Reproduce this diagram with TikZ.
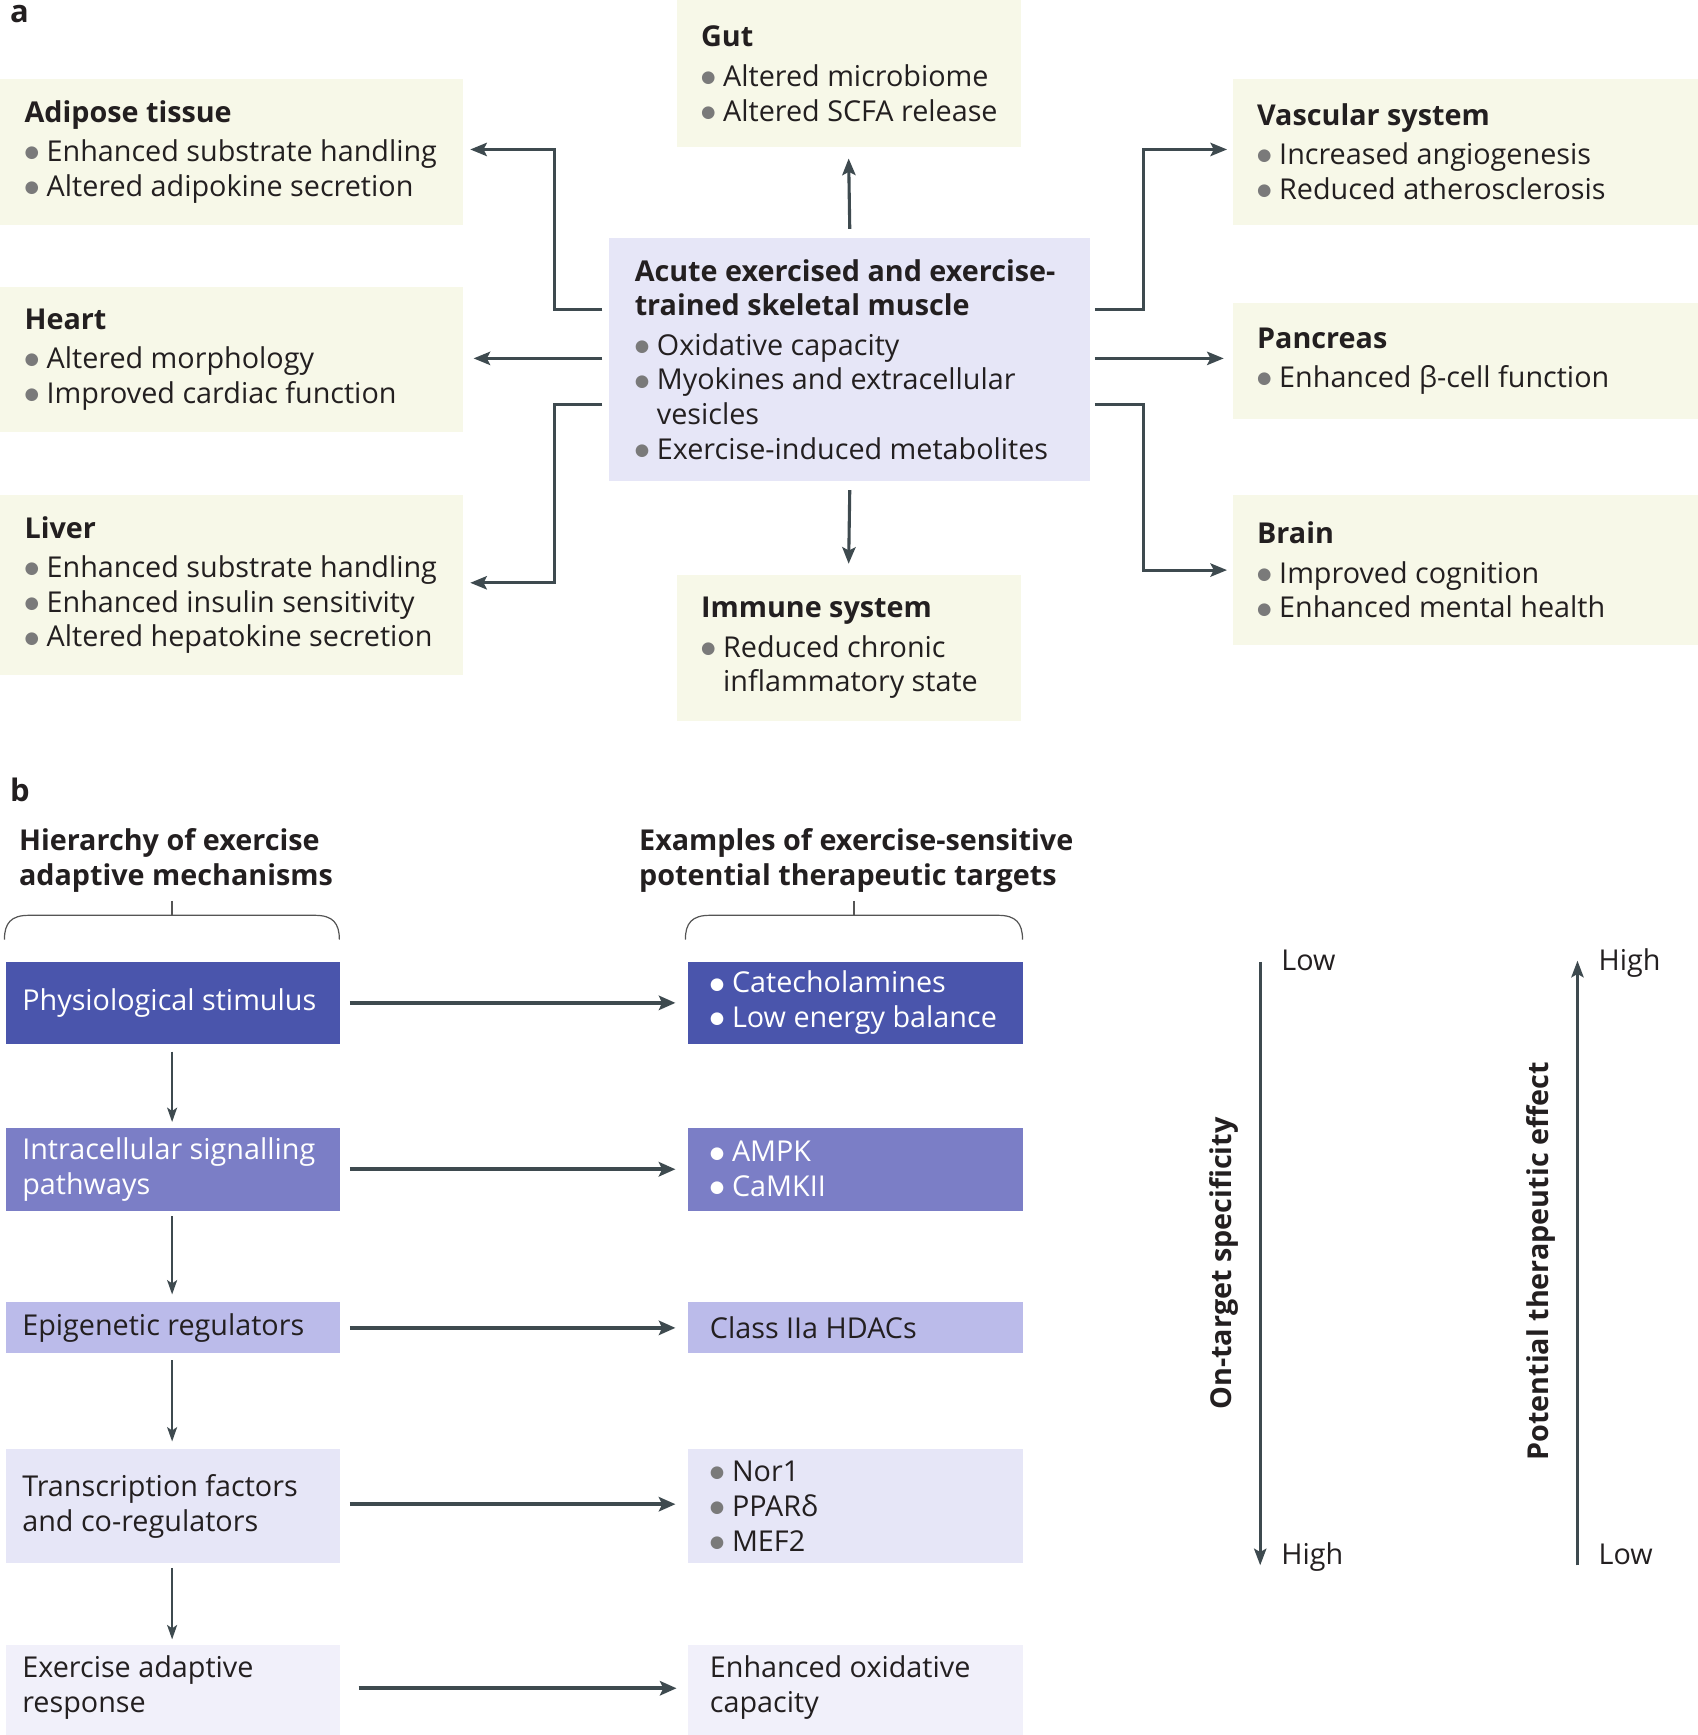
\documentclass[tikz,border=0pt]{standalone}
\usepackage{fontspec}
\setmainfont{Open Sans}
\newfontfamily\grk{Open Sans}
\newfontfamily\dvs{DejaVu Sans}
\usetikzlibrary{arrows.meta,calc}
\definecolor{boxy}{HTML}{F7F8E8}
\definecolor{lav}{HTML}{E6E6F7}
\definecolor{dk}{HTML}{4A55AC}
\definecolor{md}{HTML}{7B7EC6}
\definecolor{lt}{HTML}{BBBBEA}
\definecolor{vlt}{HTML}{F1F0FA}
\definecolor{arrc}{HTML}{3E4A4F}
\definecolor{txtc}{HTML}{231F20}
\definecolor{bulc}{HTML}{7A7A7A}
\definecolor{brkc}{HTML}{555555}
\newcommand\fs{\fontsize{26}{31.5}\selectfont}
\newcommand\bl{\makebox[20pt][l]{\raisebox{3.5pt}{\textcolor{bulc}{\dvs\fontsize{15}{15}\selectfont ●}}}}
\newcommand\wbl{\makebox[20pt][l]{\raisebox{3.5pt}{\textcolor{white}{\dvs\fontsize{15}{15}\selectfont ●}}}}
\begin{document}
\begin{tikzpicture}[x=1pt,y=-1pt,
  bx/.style={anchor=north west, inner sep=0pt, draw=none},
  txt/.style={anchor=west, align=left, inner sep=0pt, font=\fs, text=txtc},
  wtxt/.style={txt, text=white},
  arrA/.style={draw=arrc, line width=2.8pt, -{Stealth[length=15pt,width=12pt,inset=3pt]}},
  arrB/.style={draw=arrc, line width=3.6pt, -{Stealth[length=15pt,width=13pt,inset=3pt]}},
  arrV/.style={draw=arrc, line width=2pt, -{Stealth[length=13pt,width=9pt,inset=3pt]}},
  arrC/.style={draw=arrc, line width=3pt, -{Stealth[length=15pt,width=11pt,inset=3pt]}},
  brk/.style={draw=brkc, line width=1.1pt}
]
\useasboundingbox (0,0) rectangle (1536,1569.5);

% ---------- panel a ----------
\node[txt, anchor=base west, font=\fontsize{28}{30}\selectfont\bfseries] (la) at (9,20) {a};

\node[bx, fill=boxy, minimum width=419pt, minimum height=132pt] (adi) at (0,71) {};
\node[bx, fill=boxy, minimum width=419pt, minimum height=132pt] (hea) at (0,259) {};
\node[bx, fill=boxy, minimum width=419pt, minimum height=162pt] (liv) at (0,448) {};
\node[bx, fill=boxy, minimum width=311pt, minimum height=133pt] (gut) at (612,0) {};
\node[bx, fill=lav,  minimum width=435pt, minimum height=220pt] (mus) at (551,215) {};
\node[bx, fill=boxy, minimum width=311pt, minimum height=132pt] (imm) at (612,520) {};
\node[bx, fill=boxy, minimum width=421pt, minimum height=132pt] (vas) at (1115,71) {};
\node[bx, fill=boxy, minimum width=421pt, minimum height=105pt] (pan) at (1115,274) {};
\node[bx, fill=boxy, minimum width=421pt, minimum height=135pt] (bra) at (1115,448) {};

\node[txt] (adiT) at ($(adi.west)+(22,0)$) {\textbf{Adipose tissue}\\[4pt]\bl Enhanced substrate handling\\\bl Altered adipokine secretion};
\node[txt] (heaT) at ($(hea.west)+(22,0)$) {\textbf{Heart}\\[4pt]\bl Altered morphology\\\bl Improved cardiac function};
\node[txt] (livT) at ($(liv.west)+(22,0)$) {\textbf{Liver}\\[4pt]\bl Enhanced substrate handling\\\bl Enhanced insulin sensitivity\\\bl Altered hepatokine secretion};
\node[txt] (gutT) at ($(gut.west)+(22,0)$) {\textbf{Gut}\\[4pt]\bl Altered microbiome\\\bl Altered SCFA release};
\node[txt] (musT) at ($(mus.west)+(23,0)$) {\textbf{Acute exercised and exercise-}\\\textbf{trained skeletal muscle}\\[4pt]\bl Oxidative capacity\\\bl Myokines and extracellular\\\hspace*{20pt}vesicles\\\bl Exercise-induced metabolites};
\node[txt] (immT) at ($(imm.west)+(22,0)$) {\textbf{Immune system}\\[4pt]\bl Reduced chronic\\\hspace*{20pt}inflammatory state};
\node[txt] (vasT) at ($(vas.west)+(22,0)$) {\textbf{Vascular system}\\[4pt]\bl Increased angiogenesis\\\bl Reduced atherosclerosis};
\node[txt] (panT) at ($(pan.west)+(22,0)$) {\textbf{Pancreas}\\[4pt]\bl Enhanced {\grk β}-cell function};
\node[txt] (braT) at ($(bra.west)+(22,0)$) {\textbf{Brain}\\[4pt]\bl Improved cognition\\\bl Enhanced mental health};

\draw[arrA] ([yshift=8pt]mus.north) -- ([yshift=-10pt]gut.south);
\draw[arrA] ([yshift=-8pt]mus.south) -- ([yshift=10pt]imm.north);
\draw[arrA] ($(mus.north west)+(-6,65)$) -- ++(-43,0) |- ($(adi.east)+(6,-2)$);
\draw[arrA] ($(mus.west)+(-6,-1)$) -- ($(hea.east |- mus.west)+(9,-1)$);
\draw[arrA] ($(mus.north west)+(-6,151)$) -- ++(-43,0) |- ($(liv.east)+(6,-2)$);
\draw[arrA] ($(mus.north east)+(4,65)$) -- ++(44,0) |- ($(vas.west)+(-5,-2)$);
\draw[arrA] ($(mus.east)+(4,-1)$) -- ($(pan.west |- mus.east)+(-8,-1)$);
\draw[arrA] ($(mus.north east)+(4,151)$) -- ++(44,0) |- ($(bra.west)+(-5,0)$);

% ---------- panel b ----------
\node[txt, anchor=base west, font=\fontsize{28}{30}\selectfont\bfseries] (lb) at (9,725) {b};
\node[txt, font=\fs\bfseries] (h1) at (17,778) {Hierarchy of exercise\\adaptive mechanisms};
\node[txt, font=\fs\bfseries] (h2) at (578,778) {Examples of exercise-sensitive\\potential therapeutic targets};

\draw[brk] (4,850) .. controls (4,835) and (10,828) .. (26,828) -- (285,828) .. controls (301,828) and (307,835) .. (307,850);
\draw[brk] (155.5,815) -- (155.5,828);
\draw[brk] (620,850) .. controls (620,835) and (626,828) .. (642,828) -- (903,828) .. controls (919,828) and (925,835) .. (925,850);
\draw[brk] (772.5,815) -- (772.5,828);

\node[bx, fill=dk,  minimum width=302pt, minimum height=74pt]  (p1) at (5,870) {};
\node[bx, fill=md,  minimum width=302pt, minimum height=75pt]  (p2) at (5,1020) {};
\node[bx, fill=lt,  minimum width=302pt, minimum height=46pt]  (p3) at (5,1178) {};
\node[bx, fill=lav, minimum width=302pt, minimum height=103pt] (p4) at (5,1311) {};
\node[bx, fill=vlt, minimum width=302pt, minimum height=82pt]  (p5) at (5,1488) {};
\node[bx, fill=dk,  minimum width=303pt, minimum height=74pt]  (q1) at (622,870) {};
\node[bx, fill=md,  minimum width=303pt, minimum height=75pt]  (q2) at (622,1020) {};
\node[bx, fill=lt,  minimum width=303pt, minimum height=46pt]  (q3) at (622,1178) {};
\node[bx, fill=lav, minimum width=303pt, minimum height=103pt] (q4) at (622,1311) {};
\node[bx, fill=vlt, minimum width=303pt, minimum height=82pt]  (q5) at (622,1488) {};

\node[wtxt] (p1T) at ($(p1.west)+(15,0)$) {Physiological stimulus};
\node[wtxt] (p2T) at ($(p2.west)+(15,0)$) {Intracellular signalling\\pathways};
\node[txt]  (p3T) at ($(p3.west)+(15,0)$) {Epigenetic regulators};
\node[txt]  (p4T) at ($(p4.west)+(15,0)$) {Transcription factors\\and co-regulators};
\node[txt]  (p5T) at ($(p5.west)+(15,-3)$) {Exercise adaptive\\response};
\node[wtxt] (q1T) at ($(q1.west)+(20,0)$) {\wbl Catecholamines\\\wbl Low energy balance};
\node[wtxt] (q2T) at ($(q2.west)+(20,0)$) {\wbl AMPK\\\wbl CaMKII};
\node[txt]  (q3T) at ($(q3.west)+(20,0)$) {Class IIa HDACs};
\node[txt]  (q4T) at ($(q4.west)+(20,0)$) {\bl Nor1\\\bl PPAR{\grk δ}\\\bl MEF2};
\node[txt]  (q5T) at ($(q5.west)+(20,-3)$) {Enhanced oxidative\\capacity};

\draw[arrB] ([xshift=9pt]p1.east) -- ([xshift=-11pt]q1.west);
\draw[arrB] ([xshift=9pt]p2.east) -- ([xshift=-11pt]q2.west);
\draw[arrB] ([xshift=9pt]p3.east) -- ([xshift=-11pt]q3.west);
\draw[arrB] ($(p4.east)+(9,-2)$) -- ($(q4.west)+(-11,-2)$);
\draw[arrB] ($(p5.east)+(17,-2)$) -- ($(q5.west)+(-10,-2)$);

\draw[arrV] ($(p1.south)+(-0.5,7)$) -- ($(p2.north)+(-0.5,-5)$);
\draw[arrV] ($(p2.south)+(-0.5,5)$) -- ($(p3.north)+(-0.5,-7)$);
\draw[arrV] ($(p3.south)+(-0.5,6)$) -- ($(p4.north)+(-0.5,-7)$);
\draw[arrV] ($(p4.south)+(-0.5,4)$) -- ($(p5.north)+(-0.5,-5)$);

% ---------- side scales ----------
\coordinate (s1) at (1140,870);
\coordinate (s2) at (1140,1416);
\coordinate (t1) at (1427,1416);
\coordinate (t2) at (1427,869);
\draw[arrC] (s1) -- (s2);
\draw[arrC] (t1) -- (t2);
\node[txt, anchor=base west] (sLo) at (1159,878) {Low};
\node[txt, anchor=base west] (sHi) at (1159,1415) {High};
\node[txt, anchor=base west] (tHi) at (1446,878) {High};
\node[txt, anchor=base west] (tLo) at (1446,1415) {Low};
\node[txt, anchor=center, rotate=90, font=\fs\bfseries] (sL) at (1107,1143) {On-target specificity};
\node[txt, anchor=center, rotate=90, font=\fs\bfseries] (tL) at (1394,1141) {Potential therapeutic effect};
\end{tikzpicture}
\end{document}
